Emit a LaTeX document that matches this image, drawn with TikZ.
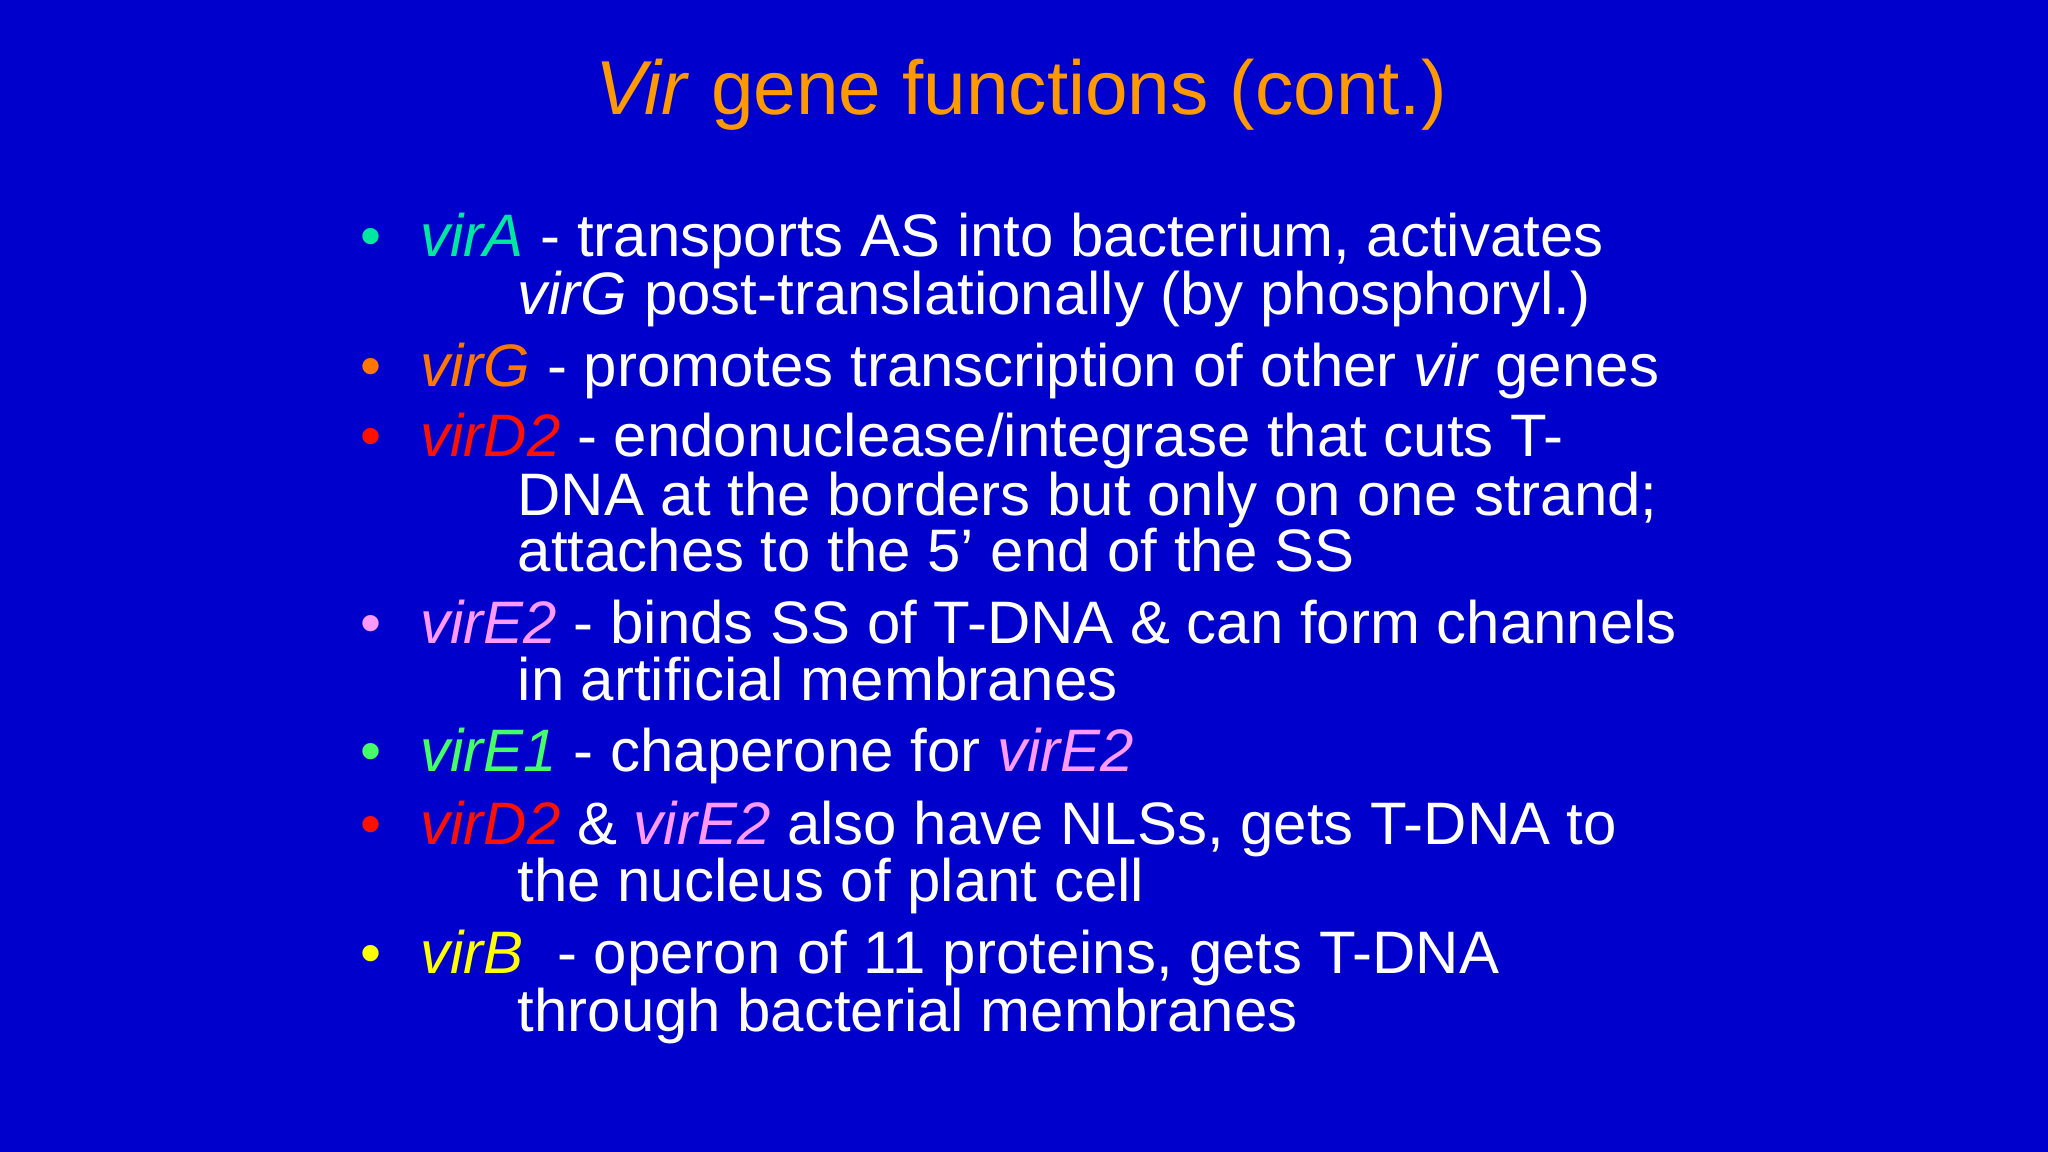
\documentclass[tikz,border=0pt]{standalone}
\usepackage{fontspec}
\setmainfont{Liberation Sans}
\definecolor{bg}{HTML}{0000CC}
\definecolor{ttl}{HTML}{FF9900}
\definecolor{cA}{HTML}{00E8A0}
\definecolor{cG}{HTML}{FF7700}
\definecolor{cD}{HTML}{FF1100}
\definecolor{cE}{HTML}{FF99FF}
\definecolor{cE1}{HTML}{44FF66}
\definecolor{cB}{HTML}{FFFF00}
\begin{document}
\begin{tikzpicture}[x=0.01cm,y=-0.01cm,
  txt/.style={anchor=base west,inner sep=0,text=white,font=\fontsize{17.05}{21}\selectfont},
  bul/.style={anchor=base west,inner sep=0,font=\fontsize{17.05}{21}\selectfont}]
\fill[bg] (0,0) rectangle (2048,1152);
\useasboundingbox (0,0) rectangle (2048,1152);
\node[anchor=base,inner sep=0,text=ttl,font=\fontsize{21.75}{26}\selectfont] (title) at (1021,115) {\textit{Vir} gene functions (cont.)};
\node[bul,text=cA] (b1) at (360,257) {•};
\node[txt] (l1) at (420,257) {\textcolor{cA}{\textit{virA}} - transports AS into bacterium, activates};
\node[txt] (l1b) at (517,315) {\textit{virG} post-translationally (by phosphoryl.)};
\node[bul,text=cG] (b2) at (360,387) {•};
\node[txt] (l2) at (420,387) {\textcolor{cG}{\textit{virG}} - promotes transcription of other \textit{vir} genes};
\node[bul,text=cD] (b3) at (360,457) {•};
\node[txt] (l3) at (420,457) {\textcolor{cD}{\textit{virD2}} - endonuclease/integrase that cuts T-};
\node[txt] (l3b) at (517,515) {DNA at the borders but only on one strand;};
\node[txt] (l3c) at (517,571) {attaches to the 5\symbol{39} end of the SS};
\node[bul,text=cE] (b4) at (360,643) {•};
\node[txt] (l4) at (420,643) {\textcolor{cE}{\textit{virE2}} - binds SS of T-DNA \& can form channels};
\node[txt] (l4b) at (517,700) {in artificial membranes};
\node[bul,text=cE1] (b5) at (360,771) {•};
\node[txt] (l5) at (420,771) {\textcolor{cE1}{\textit{virE1}} - chaperone for \textcolor{cE}{\textit{virE2}}};
\node[bul,text=cD] (b6) at (360,844) {•};
\node[txt] (l6) at (420,844) {\textcolor{cD}{\textit{virD2}} \& \textcolor{cE}{\textit{virE2}} also have NLSs, gets T-DNA to};
\node[txt] (l6b) at (517,901) {the nucleus of plant cell};
\node[bul,text=cB] (b7) at (360,973) {•};
\node[txt] (l7) at (420,973) {\textcolor{cB}{\textit{virB}}\ \ - operon of 11 proteins, gets T-DNA};
\node[txt] (l7b) at (517,1031) {through bacterial membranes};
\end{tikzpicture}
\end{document}
